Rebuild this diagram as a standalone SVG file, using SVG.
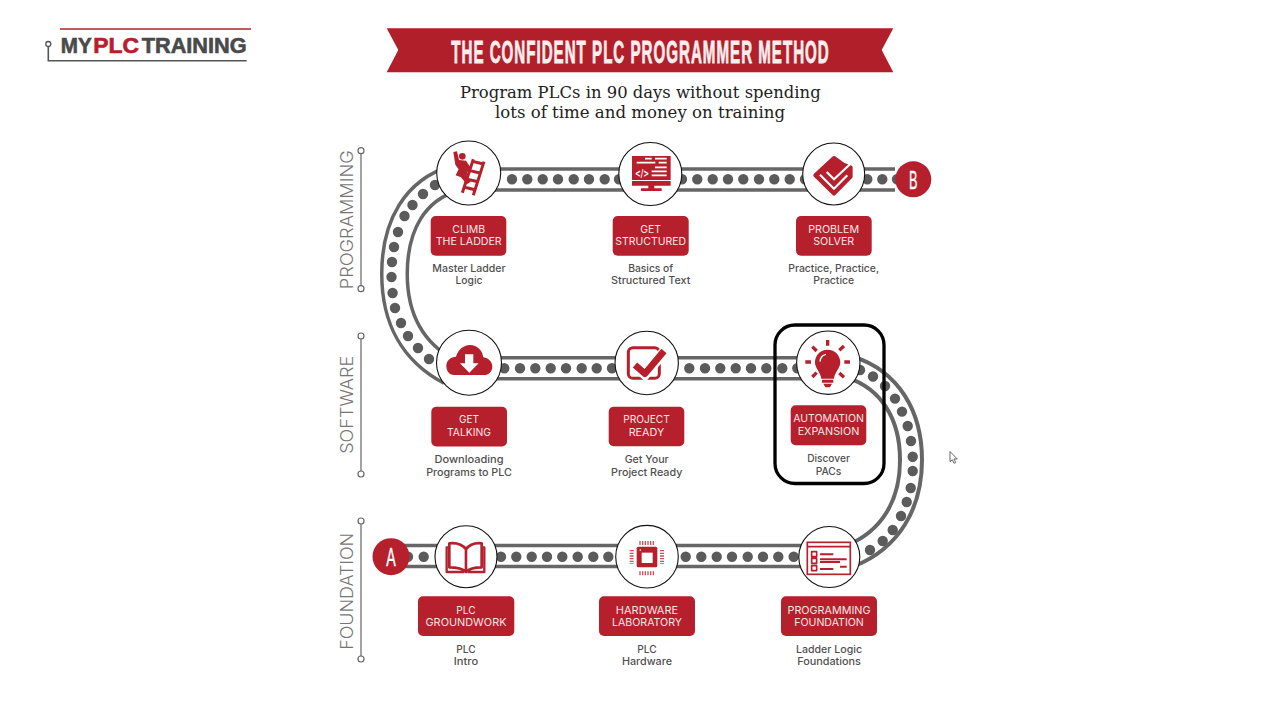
<svg xmlns="http://www.w3.org/2000/svg" width="1280" height="720" viewBox="0 0 1280 720">
<style>
text{font-family:"Inter","Liberation Sans",sans-serif;text-anchor:middle}
.lab{fill:#f6e4e4;font-size:10.6px;font-weight:400}
.sub{fill:#505050;font-size:10.4px;font-weight:500}
.side{fill:#767676;font-size:17px;font-weight:300}
.box{fill:#b5202c}
.ring{fill:#fff;stroke:#111;stroke-width:1.1}
.ro{fill:none;stroke:#666}
.ri{fill:none;stroke:#fff}
.dots{fill:none;stroke:#5b5b5b;stroke-width:10.4;stroke-linecap:round}
.tick{fill:none;stroke:#666;stroke-width:1.2}
.pin{fill:#fff;stroke:#666;stroke-width:1.2}
.rf{fill:#b5202c}
.rs{fill:none;stroke:#b5202c;stroke-linecap:butt;stroke-linejoin:round}
.ws{fill:none;stroke:#fff}
.logo{font-family:"Liberation Sans",Arial,sans-serif;font-weight:700;font-size:21.5px;text-anchor:start;stroke-width:.6px}
.badge{font-family:"Liberation Sans",Arial,sans-serif;font-weight:400;font-size:26px;fill:#fff;stroke:#fff;stroke-width:.4px}
</style>
<rect width="1280" height="720" fill="#fff"/>

<g id="logo">
<path d="M60 29H251" stroke="#b5202c" stroke-width="1.6" fill="none"/>
<path d="M48.300 46.500V60.700H246.700" stroke="#555" stroke-width="1.6" fill="none"/>
<circle cx="48.300" cy="44" r="2.500" fill="#fff" stroke="#555" stroke-width="1.300"/>
<text class="logo" x="60.700" y="52.500" fill="#4a4a4a" stroke="#4a4a4a" textLength="31" lengthAdjust="spacingAndGlyphs">MY</text>
<text class="logo" x="93.300" y="52.500" fill="#b5202c" stroke="#b5202c" textLength="45.700" lengthAdjust="spacingAndGlyphs">PLC</text>
<text class="logo" x="141.700" y="52.500" fill="#4a4a4a" stroke="#4a4a4a" textLength="105" lengthAdjust="spacingAndGlyphs">TRAINING</text>
</g>

<g id="title">
<polygon points="386.700,28.300 893.300,28.300 881.700,50 893.300,72.300 386.700,72.300 398.300,50" fill="#b01f2a"/>
<text transform="translate(640.500 62.700) scale(.489 1)" font-size="31" font-weight="700" fill="#fbeeee" stroke="#fbeeee" stroke-width=".8" letter-spacing="2" style="font-family:'Liberation Sans',Arial,sans-serif">THE CONFIDENT PLC PROGRAMMER METHOD</text>
<text x="640.300" y="97.800" font-size="17px" fill="#222" style="font-family:'DejaVu Serif',serif" textLength="360.700" lengthAdjust="spacingAndGlyphs">Program PLCs in 90 days without spending</text>
<text x="640" y="118.300" font-size="17px" fill="#222" style="font-family:'DejaVu Serif',serif" textLength="290" lengthAdjust="spacingAndGlyphs">lots of time and money on training</text>
</g>

<g id="stage-labels">
<path class="tick" d="M361 150.700V288.700M361 336V474M361 521V659"/>
<circle class="pin" cx="361" cy="150.700" r="3"/><circle class="pin" cx="361" cy="288.700" r="3"/>
<circle class="pin" cx="361" cy="336" r="3"/><circle class="pin" cx="361" cy="474" r="3"/>
<circle class="pin" cx="361" cy="521" r="3"/><circle class="pin" cx="361" cy="659" r="3"/>
<text class="side" transform="translate(353.300 219.700) rotate(-90)" textLength="139" lengthAdjust="spacingAndGlyphs">PROGRAMMING</text>
<text class="side" transform="translate(353.300 404.800) rotate(-90)" textLength="98" lengthAdjust="spacingAndGlyphs">SOFTWARE</text>
<text class="side" transform="translate(353.300 591.300) rotate(-90)" textLength="117" lengthAdjust="spacingAndGlyphs">FOUNDATION</text>
</g>

<g id="connectors">
<path class="ro" stroke-width="24.400" d="M469 179.500H895M469 368.300H830M391 556H830"/>
<path class="ri" stroke-width="17.600" d="M469 179.500H895M469 368.300H830M391 556H830"/>
<path class="ro" stroke-width="29" d="M455 178C415 190 394.500 225 394.500 274C394.500 318 412 352 450 372"/>
<path class="ri" stroke-width="22" d="M455 178C415 190 394.500 225 394.500 274C394.500 318 412 352 450 372"/>
<path class="ro" stroke-width="26" d="M850 367C890 380 911 415 911 460C911 505 890 540 850 556"/>
<path class="ri" stroke-width="18" d="M850 367C890 380 911 415 911 460C911 505 890 540 850 556"/>
<path class="dots" d="M512 179.300h0M527.300 179.300h0M542.700 179.300h0M558 179.300h0M573.700 179.300h0M589 179.300h0M604.700 179.300h0M619 179.300h0M682 179.300h0M697.300 179.300h0M712.700 179.300h0M728 179.300h0M743.300 179.300h0M759 179.300h0M774.300 179.300h0M789.700 179.300h0M805 179.300h0M867.300 179.300h0M882.300 179.300h0M897 179.300h0"/>
<path class="dots" d="M504.300 368.300h0M520 368.300h0M535.300 368.300h0M550.700 368.300h0M566 368.300h0M581.700 368.300h0M596.700 368.300h0M612 368.300h0M689.300 368.300h0M705 368.300h0M720.300 368.300h0M735.700 368.300h0M751 368.300h0M766.300 368.300h0M782.300 368.300h0M797.300 368.300h0"/>
<path class="dots" d="M408 556.700h0M423.700 556.700h0M501 556.700h0M516.300 556.700h0M531.700 556.700h0M547 556.700h0M562.300 556.700h0M577.700 556.700h0M593.300 556.700h0M608.300 556.700h0M685.700 556.700h0M701.300 556.700h0M716.700 556.700h0M732 556.700h0M747.700 556.700h0M763 556.700h0M778.300 556.700h0M793.700 556.700h0"/>
<path class="dots" d="M435 185h0M423 194h0M412.500 205h0M404.500 216h0M398 232h0M394 247h0M392 262h0M391.500 277h0M392.600 293h0M395 308h0M401 323h0M408 336h0M418 348h0M429 359h0"/>
<path class="dots" d="M860 370h0M873 376.500h0M885 386h0M895 398.600h0M902 411.600h0M907.700 426h0M911 441h0M912.700 456.700h0M912.700 471h0M910.700 488h0M906.700 502h0M901 516h0M892.700 530h0M882.700 541h0M870 550h0"/>
</g>

<g id="node-climb">
<circle class="ring" cx="468.700" cy="173" r="32"/>
<g transform="translate(330 130) scale(.3333)">
<path class="rs" stroke-width="9" d="M430 88L397 188M462 95L430 196M428 94L460 102M420 122L452 130M412 148L444 155M404 172L438 180"/>
<circle class="rf" cx="397" cy="79" r="10"/>
<path class="rf" d="M370 66L381 64L387 90L408 92L424 116L412 126L410 138L422 156L410 163L393 142L377 136L386 118L376 104Z"/>
</g>
<rect class="box" x="430.700" y="216" width="75.600" height="39.700" rx="5"/>
<text class="lab" x="468.700" y="232.700" textLength="32.700" lengthAdjust="spacingAndGlyphs">CLIMB</text>
<text class="lab" x="468.700" y="245" textLength="66" lengthAdjust="spacingAndGlyphs">THE LADDER</text>
<text class="sub" x="469" y="271.700" textLength="73.300" lengthAdjust="spacingAndGlyphs">Master Ladder</text>
<text class="sub" x="469" y="284" textLength="27" lengthAdjust="spacingAndGlyphs">Logic</text>
</g>

<g id="node-structured">
<circle class="ring" cx="650.300" cy="174" r="31.500"/>
<g transform="translate(610 130) scale(.3333)">
<path class="rf" d="M66 78H182V150H66ZM66 153H182V167H133V175H155V183H93V175H115V167H66Z"/>
<path class="ws" stroke-width="5" d="M80 98H136M146 98H170M105 86H125M135 86H170M135 112H170M125 124H170M125 136H170"/>
<text x="96" y="140" font-size="34" font-weight="700" fill="#fff" style="font-family:'DejaVu Sans',sans-serif" textLength="42" lengthAdjust="spacingAndGlyphs">&lt;/&gt;</text>
</g>
<rect class="box" x="612.700" y="216" width="76" height="39.700" rx="5"/>
<text class="lab" x="650.700" y="232.700" textLength="20.700" lengthAdjust="spacingAndGlyphs">GET</text>
<text class="lab" x="650.700" y="245" textLength="70.700" lengthAdjust="spacingAndGlyphs">STRUCTURED</text>
<text class="sub" x="650.700" y="271.700" textLength="45" lengthAdjust="spacingAndGlyphs">Basics of</text>
<text class="sub" x="650.700" y="284" textLength="79.300" lengthAdjust="spacingAndGlyphs">Structured Text</text>
</g>

<g id="node-solver">
<circle class="ring" cx="833.700" cy="174" r="31"/>
<g transform="translate(610 130) scale(.3333)">
<path class="rf" stroke="#b5202c" stroke-width="12" stroke-linejoin="round" d="M672 84L616 136L672 191L722 140L722 112L700 104Z"/>
<path class="ws" stroke-width="6.500" d="M630 134L672 176L712 136"/>
<path class="ws" stroke-width="6.500" d="M650 126L672 148L736 88"/>
</g>
<rect class="box" x="796" y="216" width="75.700" height="39.700" rx="5"/>
<text class="lab" x="833.700" y="232.700" textLength="51" lengthAdjust="spacingAndGlyphs">PROBLEM</text>
<text class="lab" x="833.700" y="245" textLength="41" lengthAdjust="spacingAndGlyphs">SOLVER</text>
<text class="sub" x="833.700" y="271.700" textLength="91" lengthAdjust="spacingAndGlyphs">Practice, Practice,</text>
<text class="sub" x="833.700" y="284" textLength="41" lengthAdjust="spacingAndGlyphs">Practice</text>
</g>

<g id="node-talking">
<circle class="ring" cx="469" cy="362.700" r="32.500"/>
<g transform="translate(330 320) scale(.3333)">
<path class="rf" d="M372 165C358 165 349 152 349 138C349 122 362 110 378 110C384 90 400 75 420 75C442 75 458 92 460 112C476 114 487 126 487 140C487 154 476 165 462 165Z"/>
<path fill="#fff" d="M405 103H430V130H446L418 158L390 130H405Z"/>
</g>
<rect class="box" x="431.300" y="406.700" width="75.700" height="39.700" rx="5"/>
<text class="lab" x="469" y="423.300" textLength="20" lengthAdjust="spacingAndGlyphs">GET</text>
<text class="lab" x="469" y="435.700" textLength="44" lengthAdjust="spacingAndGlyphs">TALKING</text>
<text class="sub" x="469" y="463.300" textLength="69" lengthAdjust="spacingAndGlyphs">Downloading</text>
<text class="sub" x="469" y="475.700" textLength="85.700" lengthAdjust="spacingAndGlyphs">Programs to PLC</text>
</g>

<g id="node-project">
<circle class="ring" cx="646.700" cy="363" r="31.700"/>
<g transform="translate(600 315) scale(.3333)">
<rect x="85" y="98" width="93" height="92" rx="14" fill="none" stroke="#b5202c" stroke-width="9"/>
<path d="M100 146L135 178L198 104" fill="none" stroke="#fff" stroke-width="32"/>
<path class="rs" stroke-width="20" d="M105 150L135 176L192 108"/>
</g>
<rect class="box" x="608.700" y="406.700" width="75.600" height="39.500" rx="5"/>
<text class="lab" x="646.500" y="423.300" textLength="46.700" lengthAdjust="spacingAndGlyphs">PROJECT</text>
<text class="lab" x="646.500" y="435.700" textLength="35.700" lengthAdjust="spacingAndGlyphs">READY</text>
<text class="sub" x="646.700" y="463.300" textLength="44" lengthAdjust="spacingAndGlyphs">Get Your</text>
<text class="sub" x="646.700" y="475.700" textLength="71.300" lengthAdjust="spacingAndGlyphs">Project Ready</text>
</g>

<g id="node-automation">
<circle class="ring" cx="828.300" cy="362.700" r="31.700"/>
<g transform="translate(600 315) scale(.3333)">
<path class="rs" stroke-width="10" stroke-linecap="round" d="M683 75V92M637 95L650 108M732 93L718 106M616 141H633M733 141H750M637 186L650 173M732 187L718 174"/>
<path class="rf" d="M683 104C660 104 645 122 645 142C645 160 661 170 664 191H702C705 170 721 160 721 142C721 122 706 104 683 104Z"/>
<path class="rf" d="M666 194H700V203H666ZM670 206H696L690 217H676Z"/>
<path class="ws" stroke-width="4" d="M660 140C661 128 668 120 678 118"/>
</g>
<rect class="box" x="790.700" y="405.300" width="75.600" height="40" rx="5"/>
<text class="lab" x="828.500" y="422.300" textLength="70.700" lengthAdjust="spacingAndGlyphs">AUTOMATION</text>
<text class="lab" x="828.500" y="434.700" textLength="61.700" lengthAdjust="spacingAndGlyphs">EXPANSION</text>
<text class="sub" x="828.500" y="462.300" textLength="42.700" lengthAdjust="spacingAndGlyphs">Discover</text>
<text class="sub" x="828.500" y="475" textLength="25.700" lengthAdjust="spacingAndGlyphs">PACs</text>
</g>

<g id="node-groundwork">
<circle class="ring" cx="466" cy="556.700" r="31"/>
<g transform="translate(330 510) scale(.3333)">
<path class="rs" stroke-width="8" d="M408 118C398 104 378 98 358 100V172C378 172 398 176 408 186C418 176 436 172 455 172V100C436 98 418 104 408 118V186"/>
<path class="rs" stroke-width="7" d="M358 112H350V186H403M455 112H463V186H413"/>
</g>
<rect class="box" x="418" y="596.300" width="96.300" height="39.700" rx="5"/>
<text class="lab" x="466" y="613.700" textLength="19.300" lengthAdjust="spacingAndGlyphs">PLC</text>
<text class="lab" x="466" y="625.700" textLength="81" lengthAdjust="spacingAndGlyphs">GROUNDWORK</text>
<text class="sub" x="466" y="653" textLength="19.300" lengthAdjust="spacingAndGlyphs">PLC</text>
<text class="sub" x="466" y="665.300" textLength="24.300" lengthAdjust="spacingAndGlyphs">Intro</text>
</g>

<g id="node-hardware">
<circle class="ring" cx="647" cy="556.700" r="31.300"/>
<g transform="translate(600 510) scale(.3333)">
<rect class="rf" x="110" y="110" width="62" height="62" rx="5"/>
<rect x="125" y="128" width="33" height="31" fill="#fff"/>
<circle cx="121" cy="120" r="2.500" fill="#fff"/>
<path d="M118 99H166M118 190H166M95 120V162M186 120V162" fill="none" stroke="#c9505a" stroke-width="12" stroke-dasharray="4 4"/>
</g>
<rect class="box" x="599" y="596.300" width="96" height="39.700" rx="5"/>
<text class="lab" x="647" y="613.700" textLength="62.300" lengthAdjust="spacingAndGlyphs">HARDWARE</text>
<text class="lab" x="647" y="625.700" textLength="70" lengthAdjust="spacingAndGlyphs">LABORATORY</text>
<text class="sub" x="647" y="653" textLength="19.300" lengthAdjust="spacingAndGlyphs">PLC</text>
<text class="sub" x="647" y="665.300" textLength="50" lengthAdjust="spacingAndGlyphs">Hardware</text>
</g>

<g id="node-foundation">
<circle class="ring" cx="829.300" cy="557" r="30.500"/>
<g transform="translate(600 510) scale(.3333)">
<rect x="622" y="97" width="129" height="96" fill="none" stroke="#b5202c" stroke-width="5"/>
<path class="rs" stroke-width="5" d="M622 110H751"/>
<path class="rs" stroke-width="6" d="M660 133H700M660 148H740M660 156H720M660 177H700M720 170H740"/>
<path class="rs" stroke-width="5" d="M635 125H650V140H635ZM635 145H650V160H635ZM635 167H650V182H635Z"/>
</g>
<rect class="box" x="781" y="596.300" width="96" height="39.700" rx="5"/>
<text class="lab" x="829" y="613.700" textLength="83" lengthAdjust="spacingAndGlyphs">PROGRAMMING</text>
<text class="lab" x="829" y="625.700" textLength="69.700" lengthAdjust="spacingAndGlyphs">FOUNDATION</text>
<text class="sub" x="829" y="653" textLength="66" lengthAdjust="spacingAndGlyphs">Ladder Logic</text>
<text class="sub" x="829" y="665.300" textLength="63.700" lengthAdjust="spacingAndGlyphs">Foundations</text>
</g>

<g id="badge-a">
<circle class="rf" cx="391" cy="556.700" r="18.500"/>
<text class="badge" x="391" y="566" textLength="9.500" lengthAdjust="spacingAndGlyphs">A</text>
</g>
<g id="badge-b">
<circle class="rf" cx="913.300" cy="179.300" r="18"/>
<text class="badge" x="913.300" y="188.800" textLength="8.500" lengthAdjust="spacingAndGlyphs">B</text>
</g>

<rect id="highlight" x="775" y="325" width="109" height="158.500" rx="20" fill="none" stroke="#000" stroke-width="3.300"/>
<path id="cursor" d="M950 451.500V461.500L952.300 459.700L954 463.300L955.700 462.500L954 459H957.300Z" fill="#fff" stroke="#444" stroke-width=".8"/>
</svg>
